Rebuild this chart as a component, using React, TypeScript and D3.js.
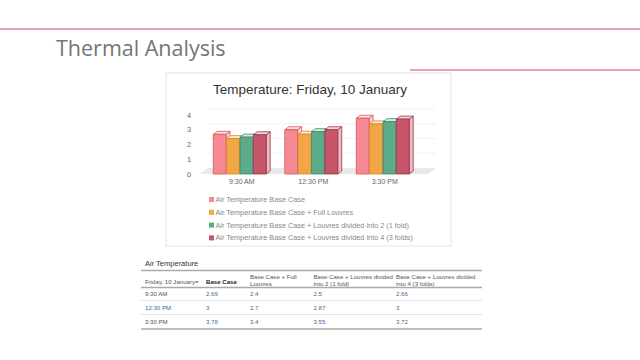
import React from "react";
import * as d3 from "d3";

const categories = ["9:30 AM", "12:30 PM", "3:30 PM"];
const seriesNames = [
  "Air Temperature Base Case",
  "Air Temperature Base Case + Full Louvres",
  "Air Temperature Base Case + Louvres divided into 2 (1 fold)",
  "Air Temperature Base Case + Louvres divided into 4 (3 folds)",
];
const baseCase = [2.69, 3, 3.78];
const fullLouvres = [2.4, 2.7, 3.4];
const divided2 = [2.5, 2.87, 3.55];
const divided4 = [2.66, 3, 3.72];
const seriesValues = [baseCase, fullLouvres, divided2, divided4];
const yTicks = [0, 1, 2, 3, 4];
const colors = ["#f58a94", "#f2a646", "#5cab8b", "#c8566a"];
const strokes = ["#d9505e", "#d88a2c", "#3d896b", "#9c3247"];

const tableTitle = "Air Temperature";
const tableHeaders = [
  ["Friday, 10 January="],
  ["Base Case"],
  ["Base Case + Full", "Louvres"],
  ["Base Case + Louvres divided", "into 2 (1 fold)"],
  ["Base Case + Louvres divided", "into 4 (3 folds)"],
];
const tableValueLabels = [
  ["2.69", "2.4", "2.5", "2.66"],
  ["3", "2.7", "2.87", "3"],
  ["3.78", "3.4", "3.55", "3.72"],
];

export default function App() {
  const W = 640, H = 360;
  const dx = 4, dy = -3;
  const x = d3.scaleBand<string>().domain(categories).range([204, 418.5]).paddingInner(0.26).paddingOuter(0.13);
  const xi = d3.scaleBand<number>().domain(d3.range(seriesValues.length)).range([0, x.bandwidth()]).paddingInner(0.04);
  const y = d3.scaleLinear().domain([0, 4]).range([174, 115]);
  const font = "'Liberation Sans', Arial, sans-serif";
  const colX = [145, 206, 250, 313.5, 396];
  const rowY = [293.5, 307.5, 321.5];
  const floorX0 = 200, floorX1 = 428;
  const tf = 6.1;

  return (
    <svg width={W} height={H} style={{ position: "absolute", left: 0, top: 0, background: "#fff" }}>
      <rect x={0} y={0} width={W} height={H} fill="#fff" />
      <line x1={0} x2={W} y1={29} y2={29} stroke="#e07f93" strokeWidth={1.5} />
      <line x1={410} x2={W} y1={70} y2={70} stroke="#e07f93" strokeWidth={1.5} />
      <text x={56} y={56} fontFamily="'Open Sans', sans-serif" fontSize={21.5} fontWeight={400} fill="#6f777c">Thermal Analysis</text>

      <rect x={166} y={73} width={285} height={173} fill="#fff" stroke="#e2e2e2" strokeWidth={1} />
      <text x={310} y={93.5} textAnchor="middle" fontFamily={font} fontSize={13.5} fill="#333">Temperature: Friday, 10 January</text>

      {/* floor */}
      <path d={`M${floorX0},${y(0)}L${floorX1},${y(0)}L${floorX1 + 8},${y(0) - 6}L${floorX0 + 8},${y(0) - 6}Z`} fill="#e9e9e9" />
      {yTicks.slice(1).map((t) => (
        <line key={t} x1={floorX0 + 8} x2={floorX1 + 8} y1={y(t) - 6} y2={y(t) - 6} stroke="#f1f1f1" strokeWidth={1} />
      ))}
      {yTicks.map((t) => (
        <text key={t} x={189} y={y(t) + 2.5} textAnchor="middle" fontFamily={font} fontSize={7.5} fill="#666">{t}</text>
      ))}

      {categories.map((c, ci) => (
        <g key={c}>
          {seriesValues.map((vals, si) => {
            const x0 = (x(c) as number) + (xi(si) as number);
            const w = xi.bandwidth();
            const yt = y(vals[ci]);
            const yb = y(0);
            const light = d3.interpolateRgb(colors[si], "#ffffff")(0.6);
            const lighter = d3.interpolateRgb(colors[si], "#ffffff")(0.75);
            return (
              <g key={si} stroke={strokes[si]} strokeWidth={0.8} strokeLinejoin="round">
                <path d={`M${x0 + w},${yb}L${x0 + w + dx},${yb + dy}L${x0 + w + dx},${yt + dy}L${x0 + w},${yt}Z`} fill={light} />
                <path d={`M${x0},${yt}L${x0 + dx},${yt + dy}L${x0 + w + dx},${yt + dy}L${x0 + w},${yt}Z`} fill={lighter} />
                <rect x={x0} y={yt} width={w} height={yb - yt} fill={colors[si]} />
              </g>
            );
          })}
          <text x={(x(c) as number) + x.bandwidth() / 2 + dx / 2} y={184} textAnchor="middle" fontFamily={font} fontSize={7} fill="#666">{c}</text>
        </g>
      ))}

      {seriesNames.map((n, i) => (
        <g key={n}>
          <rect x={209} y={197 + i * 12.8} width={5} height={5} fill={colors[i]} />
          <text x={215.5} y={202 + i * 12.8} fontFamily={font} fontSize={7.3} fill="#888">{n}</text>
        </g>
      ))}

      {/* table */}
      <text x={145} y={266} fontFamily={font} fontSize={7.5} fill="#333">{tableTitle}</text>
      <line x1={141} x2={482} y1={270.5} y2={270.5} stroke="#aaa" strokeWidth={1.5} />
      {tableHeaders.map((h, i) => (
        <text key={i} x={colX[i]} y={h.length === 1 ? 283.5 : 279} fontFamily={font} fontSize={tf} fill={i === 1 ? "#222" : "#555"} fontWeight={i === 1 ? 700 : 400}>
          {h.map((line, li) => (
            <tspan key={li} x={colX[i]} dy={li === 0 ? 0 : 6.5}>{line}</tspan>
          ))}
        </text>
      ))}
      <line x1={141} x2={482} y1={287.5} y2={287.5} stroke="#aaa" strokeWidth={1.5} />
      {categories.map((c, r) => (
        <g key={c}>
          <text x={colX[0]} y={rowY[r] + 2} fontFamily={font} fontSize={tf} fill={r === 1 ? "#3a6aa0" : "#555"}>{c}</text>
          {tableValueLabels[r].map((v, j) => (
            <text key={j} x={colX[j + 1]} y={rowY[r] + 2} fontFamily={font} fontSize={tf} fill="#3f6c9c">{v}</text>
          ))}
          {r < 2 && <line x1={141} x2={482} y1={rowY[r] + 7} y2={rowY[r] + 7} stroke="#ddd" strokeWidth={0.8} />}
        </g>
      ))}
      <line x1={141} x2={482} y1={329} y2={329} stroke="#aaa" strokeWidth={1.5} />
    </svg>
  );
}
